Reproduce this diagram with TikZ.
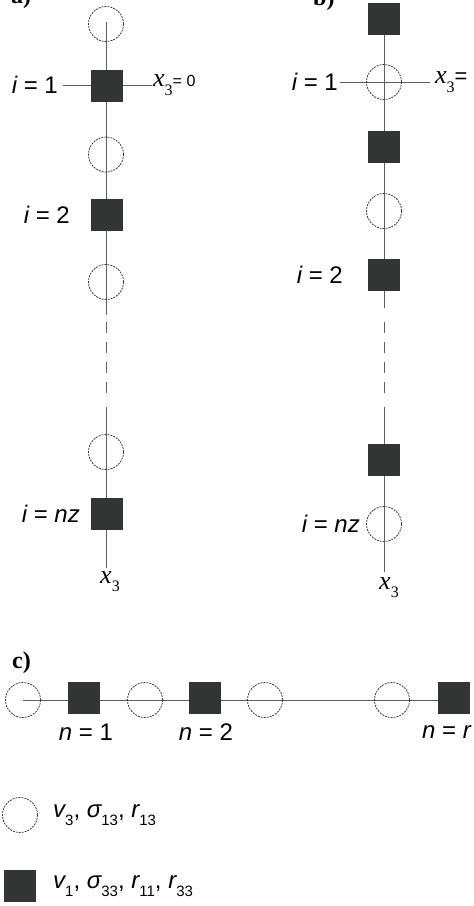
\documentclass[tikz,border=0pt]{standalone}
\usepackage{fontspec}
\setmainfont{Liberation Sans}
\newfontfamily\serifff{Liberation Serif}
\definecolor{lgray}{HTML}{606060}
\definecolor{cgray}{HTML}{333333}
\definecolor{sqfill}{HTML}{333535}
\newcommand\sbs[1]{\raisebox{-0.35em}{\fontsize{15}{15}\selectfont #1}}
\newcommand\xthree{{\fontsize{26}{26}\selectfont\serifff\itshape x}\raisebox{-0.35em}{\fontsize{16}{16}\selectfont\serifff 3}}
\begin{document}
\begin{tikzpicture}[x=1pt,y=-1pt,
  ln/.style={draw=lgray, line width=0.9pt},
  dln/.style={draw=lgray, line width=0.9pt, dash pattern=on 11pt off 9pt},
  circ/.style={circle, draw=cgray, dash pattern=on 2pt off 1pt, line width=0.75pt, minimum size=35pt, inner sep=0pt},
  sq/.style={rectangle, fill=sqfill, minimum size=32pt, inner sep=0pt},
  lab/.style={font=\fontsize{24}{24}\selectfont, inner sep=0pt},
  plab/.style={font=\fontsize{24}{24}\selectfont\serifff\bfseries, inner sep=0pt},
]
\useasboundingbox (0,0) rectangle (474,906);

% ---------- panel a ----------
\node[plab, anchor=base west] (la) at (11,3) {a)};
\coordinate (aTop) at (106,22);
\coordinate (aD1) at (106,315);
\coordinate (aD2) at (106,322);
\coordinate (aD3) at (106,396);
\coordinate (aD4) at (106,407);
\coordinate (aEnd) at (106,568);
\coordinate (aHL) at (63,85);
\coordinate (aHR) at (152,85);
\draw[ln] (aHL) -- (aHR);
\draw[ln] (aTop) -- (aD1);
\draw[dln] (aD2) -- (aD3);
\draw[ln] (aD4) -- (aEnd);
\node[circ] (a0) at (106,24) {};
\node[sq] (a1) at (107,86) {};
\node[circ] (a2) at (106,154.5) {};
\node[sq] (a3) at (107,215) {};
\node[circ] (a4) at (106,282) {};
\node[circ] (a5) at (106,452) {};
\node[sq] (a6) at (107,514) {};
\node[lab, anchor=east] (ai1) at (58,85) {{\itshape i} = 1};
\node[lab, anchor=east] (ai2) at (70,215) {{\itshape i} = 2};
\node[lab, anchor=east] (ainz) at (80,514) {{\itshape i} = {\itshape nz}};
\node[lab, anchor=west] (ax0) at (153,85) {\xthree{\fontsize{16}{16}\selectfont= 0}};
\node[lab, anchor=north] (ax3) at (110,571) {\xthree};

% ---------- panel b ----------
\node[plab, anchor=base west] (lb) at (313,5) {b)};
\coordinate (bTop) at (384,19);
\coordinate (bD1) at (384,308);
\coordinate (bD2) at (384,322);
\coordinate (bD3) at (384,396);
\coordinate (bD4) at (384,407);
\coordinate (bEnd) at (384,572);
\coordinate (bHL) at (340,82);
\coordinate (bHR) at (430,82);
\draw[ln] (bHL) -- (bHR);
\draw[ln] (bTop) -- (bD1);
\draw[dln] (bD2) -- (bD3);
\draw[ln] (bD4) -- (bEnd);
\node[sq] (b0) at (384,19) {};
\node[circ] (b1) at (384,82) {};
\node[sq] (b2) at (384,147) {};
\node[circ] (b3) at (384,211) {};
\node[sq] (b4) at (384,275) {};
\node[sq] (b5) at (384,460) {};
\node[circ] (b6) at (384,524) {};
\node[lab, anchor=east] (bi1) at (338,82) {{\itshape i} = 1};
\node[lab, anchor=east] (bi2) at (343,275) {{\itshape i} = 2};
\node[lab, anchor=east] (binz) at (360,524) {{\itshape i} = {\itshape nz}};
\node[lab, anchor=west] (bx0) at (435,82) {\xthree{\fontsize{22}{22}\selectfont=}};
\node[lab, anchor=north] (bx3) at (389,577) {\xthree};

% ---------- panel c ----------
\node[plab, anchor=base west] (lc) at (12,668) {c)};
\coordinate (cL) at (23,700);
\coordinate (cR) at (440,700);
\draw[ln] (cL) -- (cR);
\node[circ] (c0) at (23,700) {};
\node[sq] (c1) at (84,698) {};
\node[circ] (c2) at (145,700) {};
\node[sq] (c3) at (205,698) {};
\node[circ] (c4) at (265,700) {};
\node[circ] (c5) at (392,700) {};
\node[sq] (c6) at (454,698) {};
\node[lab] (n1) at (86,732) {{\itshape n} = 1};
\node[lab] (n2) at (206,732) {{\itshape n} = 2};
\node[lab, anchor=west] (nr) at (422,732) {{\itshape n} = {\itshape r}};

% ---------- legend ----------
\node[circ] (lg1) at (20,815) {};
\node[sq] (lg2) at (20,886) {};
\node[lab, anchor=west] (lt1) at (53,815) {{\itshape v}\sbs{3}, {\itshape σ}\sbs{13}, {\itshape r}\sbs{13}};
\node[lab, anchor=west] (lt2) at (53,886) {{\itshape v}\sbs{1}, {\itshape σ}\sbs{33}, {\itshape r}\sbs{11}, {\itshape r}\sbs{33}};
\end{tikzpicture}
\end{document}
